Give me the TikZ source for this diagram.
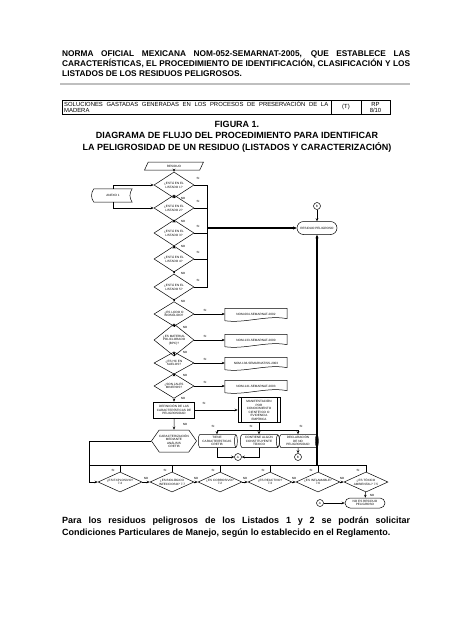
\documentclass[tikz,border=0pt]{standalone}
\usepackage{fontspec}
\setmainfont{Liberation Sans}
\usetikzlibrary{positioning,shapes.geometric,shapes.misc,shapes.symbols,arrows.meta,calc}

\begin{document}
\begin{tikzpicture}[x=1pt,y=-1pt,
    sm/.style={font=\fontsize{3.1}{3.5}\selectfont, inner sep=0pt, align=center},
    lb/.style={font=\fontsize{3}{3}\selectfont, inner sep=0pt},
    dec/.style={diamond, draw, line width=0.5pt, sm, minimum width=40pt, minimum height=19pt},
    bdec/.style={diamond, draw, line width=0.5pt, sm, inner xsep=-6pt, inner ysep=-1pt,
                 minimum width=44pt, minimum height=20pt},
    nom/.style={sm, minimum width=62pt, minimum height=11pt},
    cyl/.style={cylinder, draw, line width=0.5pt, sm, aspect=0.3, minimum width=13pt, minimum height=39pt},
    cir/.style={circle, draw, line width=0.5pt, sm, minimum size=7pt},
    rnd/.style={rounded rectangle, draw, line width=0.5pt, sm, minimum width=40pt, minimum height=13pt},
    fl/.style={line width=0.5pt},
    ar/.style={fl, -{Stealth[length=3pt,width=2.5pt]}},
    thk/.style={line width=1.8pt, -{Stealth[length=3.5pt,width=3pt]}}
  ]
  \useasboundingbox (0,0) rectangle (452,640);
  \node[anchor=north west, text width=348pt, align=justify, inner sep=0pt,
        font=\fontsize{8.3}{9.8}\selectfont\bfseries] (hdr) at (62,51)
    {NORMA OFICIAL MEXICANA NOM-052-SEMARNAT-2005, QUE ESTABLECE LAS\linebreak
     CARACTERÍSTICAS, EL PROCEDIMIENTO DE IDENTIFICACIÓN, CLASIFICACIÓN Y LOS\linebreak
     LISTADOS DE LOS RESIDUOS PELIGROSOS.};
  \draw[gray!50, line width=1.5pt] (60,84) -- (410,84);

  \draw[line width=0.6pt] (62,100) rectangle (390,114);
  \draw[line width=0.6pt] (331,100) -- (331,114) (361,100) -- (361,114);
  \node[anchor=west, text width=264pt, align=justify, inner sep=0pt,
        font=\fontsize{5.9}{6}\selectfont] (tsol) at (64,107)
    {SOLUCIONES GASTADAS GENERADAS EN LOS PROCESOS DE PRESERVACIÓN DE LA\linebreak MADERA};
  \node[font=\fontsize{5.9}{6}\selectfont, inner sep=0pt] (tt) at (346,107) {(T)};
  \node[font=\fontsize{5.9}{6}\selectfont, inner sep=0pt, align=center] (trp) at (375.5,107) {RP\\8/10};

  \node[anchor=north, align=center, inner sep=0pt,
        font=\fontsize{9}{11.5}\selectfont\bfseries] (tit) at (237,121)
    {FIGURA 1.\\DIAGRAMA DE FLUJO DEL PROCEDIMIENTO PARA IDENTIFICAR\\LA PELIGROSIDAD DE UN RESIDUO (LISTADOS Y CARACTERIZACIÓN)};

  \node[trapezium, trapezium left angle=65, trapezium right angle=115, draw, line width=0.5pt,
        sm, minimum width=40pt, minimum height=8pt] (res) at (174,166) {RESIDUO};
  \foreach \i/\y in {1/185, 2/208, 3/233, 4/259, 5/287}
    \node[dec] (l\i) at (174,\y) {¿ESTÁ EN EL\\LISTADO \i?};
  \node[dec] (lodo) at (174,314) {¿ES LODO O\\BIOSÓLIDO?};
  \node[dec] (bpc) at (174,340) {¿ES MATERIAL\\POLICLORADO\\(BPC)?};
  \node[dec] (hc) at (174,363) {¿ES HC EN\\SUELOS?};
  \node[dec] (jal) at (174,386) {¿SON JALES\\MINEROS?};
  \node[draw, line width=0.5pt, sm, minimum width=41pt, minimum height=16pt] (def) at (174,410)
    {DEFINICIÓN DE LAS\\CARACTERÍSTICAS DE\\PELIGROSIDAD};
  \node[signal, signal to=west and east, signal pointer angle=110, draw, line width=0.5pt,
        sm, minimum width=39pt, minimum height=22pt] (cre) at (174,441)
    {CARACTERIZACIÓN\\MEDIANTE\\ANÁLISIS\\CRETIB};

  \node[sm, minimum width=38pt, minimum height=13pt] (anx) at (113,195.5) {ANEXO 1};
  \draw[fl] (anx.north west) -- (anx.north east) .. controls +(-3,4) and +(-3,-4) .. (anx.south east)
    -- (anx.south west) .. controls +(-3,-4) and +(-3,4) .. (anx.north west);
  \draw[ar] (anx.north) |- (l1.west);
  \draw[ar] (anx.south) |- (l2.west);

  \draw[ar] (res) -- (l1);
  \foreach \a/\b in {l1/l2, l2/l3, l3/l4, l4/l5, l5/lodo, lodo/bpc, bpc/hc, hc/jal, jal/def, def/cre}
    \draw[ar] (\a) -- (\b);
  \coordinate (bt) at (207,185);
  \coordinate (bb) at (207,287);
  \coordinate (bj) at (207,228);
  \draw[fl] (l1.east) -- (bt) -- (bb) -- (l5.east);
  \foreach \n in {l2, l3, l4}
    \draw[fl] (\n.east) -- (\n.east -| bt);
  \node[rnd] (rp) at (317,228) {RESIDUO PELIGROSO};
  \draw[thk] (bj) -- (rp);
  \node[cir] (cb2) at (317,206) {B};
  \draw[ar] (cb2) -- (rp);

  \foreach \n/\m/\y/\t in {lodo/n004/314/{NOM-004-SEMARNAT-2002}, bpc/n133/340/{NOM-133-SEMARNAT-2000},
      hc/n138/363/{NOM-138-SEMARNAT/SS-2003}, jal/n141/386/{NOM-141-SEMARNAT-2003}} {
    \node[nom] (\m) at (256,\y) {\t};
    \draw[fl] (\m.north west) -- (\m.north east) -- ($(\m.south east)+(0,-1)$)
      .. controls ($(\m.south)+(12,-5)$) and ($(\m.south)+(-12,4)$) .. ($(\m.south west)+(0,1)$) -- cycle;
    \draw[ar] (\n) -- (\m);
  }

  \node[draw, line width=0.5pt, sm, minimum width=42pt, minimum height=25pt] (man) at (259,410)
    {MANIFESTACIÓN\\POR\\CONOCIMIENTO\\CIENTÍFICO O\\EVIDENCIA\\EMPÍRICA};
  \draw[fl] ($(man.north west)+(3,0)$) -- ($(man.south west)+(3,0)$)
            ($(man.north east)+(-3,0)$) -- ($(man.south east)+(-3,0)$);
  \draw[ar] (def) -- (man);

  \coordinate (br) at (259,430);
  \node[cyl] (c1) at (217,441) {TIENE\\CARACTERÍSTICAS\\CRETIB};
  \node[cyl] (c2) at (259,441) {CONTIENE ALGÚN\\CONSTITUYENTE\\TÓXICO};
  \node[cyl] (c3) at (298,441) {DECLARACIÓN\\DE NO\\PELIGROSIDAD};
  \draw[fl] (man) -- (br);
  \draw[ar] (br) -| (c1);
  \draw[ar] (br) -- (c2);
  \draw[ar] (br) -| (c3);
  \node[cir] (ca) at (238,457) {A};
  \node[cir] (cb) at (298,457) {B};
  \draw[ar] (c1) |- (ca);
  \draw[ar] (c2) |- (ca);
  \draw[ar] (c3) -- (cb);

  \foreach \n/\x/\t in {e1/120/{¿ES EXPLOSIVO?\\7.4}, e2/172/{¿ES BIOLÓGICO\\INFECCIOSO? 7.7},
      e3/220/{¿ES CORROSIVO?\\7.2}, e4/270/{¿ES REACTIVO?\\7.3}, e5/318/{¿ES INFLAMABLE?\\7.6},
      e6/366/{¿ES TÓXICO\\AMBIENTAL? 7.5}}
    \node[bdec] (\n) at (\x,482) {\t};
  \coordinate (hl) at (89,441);
  \draw[ar] (cre.west) -- (hl) |- (e1.west);
  \foreach \a/\b in {e1/e2, e2/e3, e3/e4, e4/e5, e5/e6}
    \draw[ar] (\a) -- (\b);
  \coordinate (bus1) at (120,465);
  \coordinate (bus6) at (366,465);
  \coordinate (bus) at (317,465);
  \draw[fl] (hl |- bus1) -- (bus6) -- (e6.north);
  \foreach \n in {e1, e2, e3, e4, e5}
    \draw[fl] (\n.north) -- (\n.north |- bus1);
  \draw[thk] (bus) -- (rp);
  \node[rnd, minimum height=10pt] (nrp) at (365,503) {NO ES RESIDUO\\PELIGROSO};
  \draw[ar] (e6) -- (nrp);
  \node[cir] (ca2) at (320,503) {A};
  \draw[ar] (ca2) -- (nrp);

  \foreach \i/\x/\y in {1/198/178, 2/198/201, 3/198/226, 4/198/252, 5/198/280,
      6/205/310, 7/205/336, 8/205/359, 9/205/382, 10/204/403,
      11/213/426, 12/251/426, 13/301/426}
    \node[lb] (si\i) at (\x,\y) {SI};
  \foreach \i/\x/\y in {1/183/198, 2/183/221, 3/183/246, 4/183/273, 5/183/301,
      6/185/327, 7/185/352, 8/185/375, 9/183/398, 10/185/424}
    \node[lb] (no\i) at (\x,\y) {NO};
  \foreach \i/\x in {1/113, 2/165, 3/213, 4/263, 5/311, 6/358}
    \node[lb] (bsi\i) at (\x,470) {SI};
  \foreach \i/\x in {1/146, 2/196, 3/245, 4/294, 5/342}
    \node[lb] (bno\i) at (\x,478) {NO};
  \node[lb] (bno6) at (372,495) {NO};

  \node[anchor=north west, text width=348pt, align=justify, inner sep=0pt,
        font=\fontsize{9}{11.5}\selectfont\bfseries] (ftr) at (62,517)
    {Para los residuos peligrosos de los Listados 1 y 2 se podrán solicitar\linebreak
     Condiciones Particulares de Manejo, según lo establecido en el Reglamento.};
\end{tikzpicture}
\end{document}
